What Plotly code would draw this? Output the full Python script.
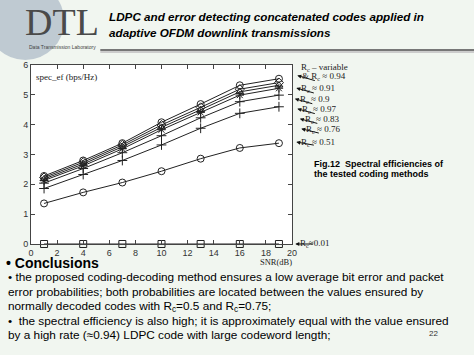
import plotly.graph_objects as go

snr = [1, 4, 7, 10, 13, 16, 19]
rc_094 = [2.28, 2.80, 3.38, 4.08, 4.69, 5.32, 5.54]
rc_091 = [2.23, 2.74, 3.32, 3.99, 4.58, 5.19, 5.41]
rc_090 = [2.18, 2.68, 3.26, 3.91, 4.50, 5.10, 5.32]
rc_097 = [2.13, 2.62, 3.19, 3.83, 4.41, 4.99, 5.22]
rc_083 = [2.04, 2.53, 3.06, 3.63, 4.23, 4.77, 4.99]
rc_076 = [1.86, 2.33, 2.80, 3.32, 3.88, 4.38, 4.60]
rc_051 = [1.36, 1.73, 2.06, 2.44, 2.86, 3.22, 3.38]
rc_001 = [0.0, 0.0, 0.0, 0.0, 0.0, 0.0, 0.0]

series = [
    (rc_094, "circle-open"),
    (rc_091, "diamond-open"),
    (rc_090, "triangle-up-open"),
    (rc_097, "asterisk-open"),
    (rc_083, "cross-thin-open"),
    (rc_076, "cross-thin-open"),
    (rc_051, "circle-open"),
    (rc_001, "square-open"),
]

serif = "Liberation Serif, Times New Roman, serif"
sans = "Liberation Sans, Arial, sans-serif"

W, H = 474, 355
L, R, T, B = 30.7, 182.3, 65, 111
pw, ph = W - L - R, H - T - B

fig = go.Figure()
for vals, sym in series:
    fig.add_trace(go.Scatter(
        x=snr, y=vals, mode="lines+markers",
        line=dict(color="#222", width=1),
        marker=dict(symbol=sym, size=7, color="#222", line=dict(color="#222", width=1)),
        showlegend=False, cliponaxis=False,
    ))

def px(xp, yp):
    return (xp - L) / pw, 1 - (yp - T) / ph

def add_text(xp, yp, text, size, family=sans, color="#000", xanchor="left", yanchor="middle"):
    x, y = px(xp, yp)
    fig.add_annotation(x=x, y=y, xref="paper", yref="paper", text=text, showarrow=False,
                       xanchor=xanchor, yanchor=yanchor, borderpad=0,
                       font=dict(family=family, size=size, color=color))

# arrows from last point of each series to its label (head pixel positions)
heads = [
    ((297.0, 75.5), rc_094[-1]),
    ((296.0, 88.0), rc_091[-1]),
    ((294.5, 98.8), rc_090[-1]),
    ((297.0, 108.8), rc_097[-1]),
    ((299.5, 118.8), rc_083[-1]),
    ((301.0, 128.8), rc_076[-1]),
    ((296.0, 142.0), rc_051[-1]),
    ((295.0, 244.0), rc_001[-1]),
]
for (hx, hy), sy in heads:
    x, y = px(hx, hy)
    fig.add_annotation(x=x, y=y, xref="paper", yref="paper",
                       ax=19, ay=sy, axref="x", ayref="y",
                       text="", showarrow=True, arrowhead=2, arrowsize=0.8, arrowwidth=1,
                       arrowcolor="#111")

label_texts = [
    (300, 67, "R<sub>c</sub> – variable"),
    (301, 76.5, "& R<sub>c</sub> ≈ 0.94"),
    (300, 88, "R<sub>c</sub> ≈ 0.91"),
    (298.5, 99, "R<sub>c</sub> ≈ 0.9"),
    (301, 109, "R<sub>c</sub> ≈ 0.97"),
    (303.5, 119, "R<sub>c</sub> ≈ 0.83"),
    (305, 129, "R<sub>c</sub> ≈ 0.76"),
    (300, 142, "R<sub>c</sub> ≈ 0.51"),
    (299, 243.5, "R<sub>c</sub>≈0.01"),
]
for lx, ly, t in label_texts:
    add_text(lx, ly, t, 9, family=serif, color="#222")

add_text(35, 77, "spec_ef (bps/Hz)", 9, family=serif, color="#222")
add_text(276, 262, "SNR(dB)", 8.5, family=serif, color="#222", xanchor="center")

# title
add_text(108, 16, "<b><i>LDPC and error detecting concatenated codes applied in</i></b>", 11.7)
add_text(108, 33, "<b><i>adaptive OFDM downlink transmissions</i></b>", 11.7)

# figure caption
add_text(313, 164, "<b>Fig.12  Spectral efficiencies of</b>", 9)
add_text(313, 174, "<b>the tested coding methods</b>", 9)

# conclusions text
add_text(5, 263, "<b>• Conclusions</b>", 14)
body = [
    (277, "• the proposed coding-decoding method ensures a low average bit error and packet"),
    (291.5, "error probabilities; both probabilities are located between the values ensured by"),
    (306, "normally decoded codes with R<sub>c</sub>=0.5 and R<sub>c</sub>=0.75;"),
    (320.5, "•  the spectral efficiency is also high; it is approximately equal with the value ensured"),
    (335, "by a high rate (≈0.94) LDPC code with large codeword length;"),
]
for yp, t in body:
    add_text(7, yp, t, 11.8)
add_text(433, 333, "22", 8, color="#333", xanchor="center")

# logo
add_text(62, 22, "DTL", 38, family=serif, color="#4a4a4a", xanchor="center")
add_text(62, 47, "Data Transmission Laboratory", 5, family=sans, color="#444", xanchor="center")

def shape_px(kind, x0, y0, x1, y1, **kw):
    a0, b0 = px(x0, y0)
    a1, b1 = px(x1, y1)
    fig.add_shape(type=kind, xref="paper", yref="paper", x0=a0, y0=b0, x1=a1, y1=b1, **kw)

shape_px("circle", -14, -18, 64, 60, fillcolor="rgba(150,165,185,0.55)", line=dict(width=0), layer="below")
shape_px("line", 100, 50, 474, 50, line=dict(color="#777", width=2))
shape_px("line", 100, 52, 474, 52, line=dict(color="#ccc", width=2))

fig.update_xaxes(range=[0, 20], dtick=2, ticks="inside", ticklen=4, mirror="ticks",
                 showline=True, linecolor="#444", linewidth=1, showgrid=False, zeroline=False,
                 tickfont=dict(family=sans, size=9, color="#333"))
fig.update_yaxes(range=[0, 6], dtick=1, ticks="inside", ticklen=4, mirror="ticks",
                 showline=True, linecolor="#444", linewidth=1, showgrid=False, zeroline=False,
                 tickfont=dict(family=sans, size=9, color="#333"))

fig.update_layout(
    width=W, height=H,
    margin=dict(l=L, r=R, t=T, b=B, pad=0),
    paper_bgcolor="#f1f6f0",
    plot_bgcolor="#ffffff",
    showlegend=False,
)

fig.write_html("out.html", config={"displayModeBar": False},
               post_script="document.body.style.margin='0';document.body.style.overflow='hidden';")
